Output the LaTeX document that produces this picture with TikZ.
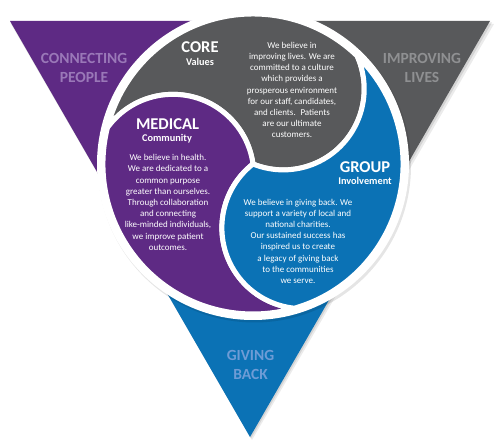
\documentclass[tikz,border=0pt]{standalone}
\usepackage{fontspec}
\setmainfont{Carlito}
\usetikzlibrary{calc}
\definecolor{cpurple}{HTML}{5E2A84}
\definecolor{cgray}{HTML}{58595B}
\definecolor{cblue}{HTML}{0B72B5}
\definecolor{lpurple}{HTML}{9A78B8}
\definecolor{lgray}{HTML}{8F9092}
\definecolor{lblue}{HTML}{6E9CD6}
\begin{document}
\begin{tikzpicture}[x=1pt,y=1pt,
  body/.style={text=white, align=center, inner sep=0pt, font=\fontsize{9}{11.2}\selectfont},
  ttl/.style={text=white, inner sep=0pt, anchor=base, font=\bfseries\fontsize{16.5}{18}\selectfont},
  sub/.style={text=white, inner sep=0pt, anchor=base, font=\bfseries\fontsize{10.3}{12}\selectfont},
  big/.style={inner sep=0pt, anchor=base, font=\bfseries\fontsize{15.5}{18}\selectfont},
  seg/.style={draw=white, line width=5pt, line join=round}]
\useasboundingbox (0,0) rectangle (495,-443);
% triangle corners
\coordinate (A) at (10,-21);
\coordinate (B) at (490,-21);
\coordinate (C) at (250,-437);
\coordinate (Mab) at (250,-21);
\coordinate (Mac) at (130,-229);
\coordinate (Mbc) at (370,-229);
% soft shadow
\fill[black, opacity=0.08] ($(A)+(1,-3)$) -- ($(B)+(4,-3)$) -- ($(C)+(2,-3)$) -- cycle;
\fill[black, opacity=0.10] ($(A)+(0.5,-1.5)$) -- ($(B)+(2,-1.5)$) -- ($(C)+(1,-1.5)$) -- cycle;
% corner pieces
\fill[cpurple] (A) -- (Mab) -- (Mac) -- cycle;
\fill[cgray] (B) -- (Mab) -- (Mbc) -- cycle;
\fill[cblue] (C) -- (Mac) -- (Mbc) -- cycle;
% circle
\coordinate (O) at (253,-164);
\fill[black, opacity=0.10] ($(O)+(1.5,-2)$) circle[radius=156.5pt];
\fill[white] (O) circle[radius=156pt];
% gray region
\path[seg, fill=cgray] (O) arc[start angle=248, end angle=384, radius=80.9pt]
  arc[start angle=46, end angle=166, radius=150pt]
  arc[start angle=504, end angle=368, radius=80.9pt] -- cycle;
% purple region
\path[seg, fill=cpurple] (O) arc[start angle=368, end angle=504, radius=80.9pt]
  arc[start angle=166, end angle=286, radius=150pt]
  arc[start angle=624, end angle=488, radius=80.9pt] -- cycle;
% blue region
\path[seg, fill=cblue] (O) arc[start angle=488, end angle=624, radius=80.9pt]
  arc[start angle=286, end angle=406, radius=150pt]
  arc[start angle=384, end angle=248, radius=80.9pt] -- cycle;
% corner labels
\node[big, text=lpurple] (conn) at (84,-64) {CONNECTING};
\node[big, text=lpurple] (peop) at (84,-82.3) {PEOPLE};
\node[big, text=lgray] (impr) at (422,-64) {IMPROVING};
\node[big, text=lgray] (live) at (422,-82.3) {LIVES};
\node[big, text=lblue] (givi) at (250.5,-360.7) {GIVING};
\node[big, text=lblue] (back) at (250.5,-379) {BACK};
% titles
\node[ttl] (core) at (200,-52.3) {CORE};
\node[sub] (valu) at (200,-65.3) {Values};
\node[ttl] (medi) at (167.5,-129.3) {MEDICAL};
\node[sub] (comm) at (167,-141.3) {Community};
\node[ttl] (grou) at (365,-172.3) {GROUP};
\node[sub] (invo) at (365,-184.3) {Involvement};
% bodies
\node[body] (coretxt) at (292,-90) {We believe in\\improving lives. We are\\committed to a culture\\which provides a\\prosperous environment\\for our staff, candidates,\\and clients.~ Patients\\are our ultimate\\customers.};
\node[body] (meditxt) at (168,-202.5) {We believe in health.\\We are dedicated to a\\common purpose\\greater than ourselves.\\Through collaboration\\and connecting\\like-minded individuals,\\we improve patient\\outcomes.};
\node[body] (groutxt) at (298,-241.3) {We believe in giving back. We\\support a variety of local and\\national charities.\\Our sustained success has\\inspired us to create\\a legacy of giving back\\to the communities\\we serve.};
\end{tikzpicture}
\end{document}
